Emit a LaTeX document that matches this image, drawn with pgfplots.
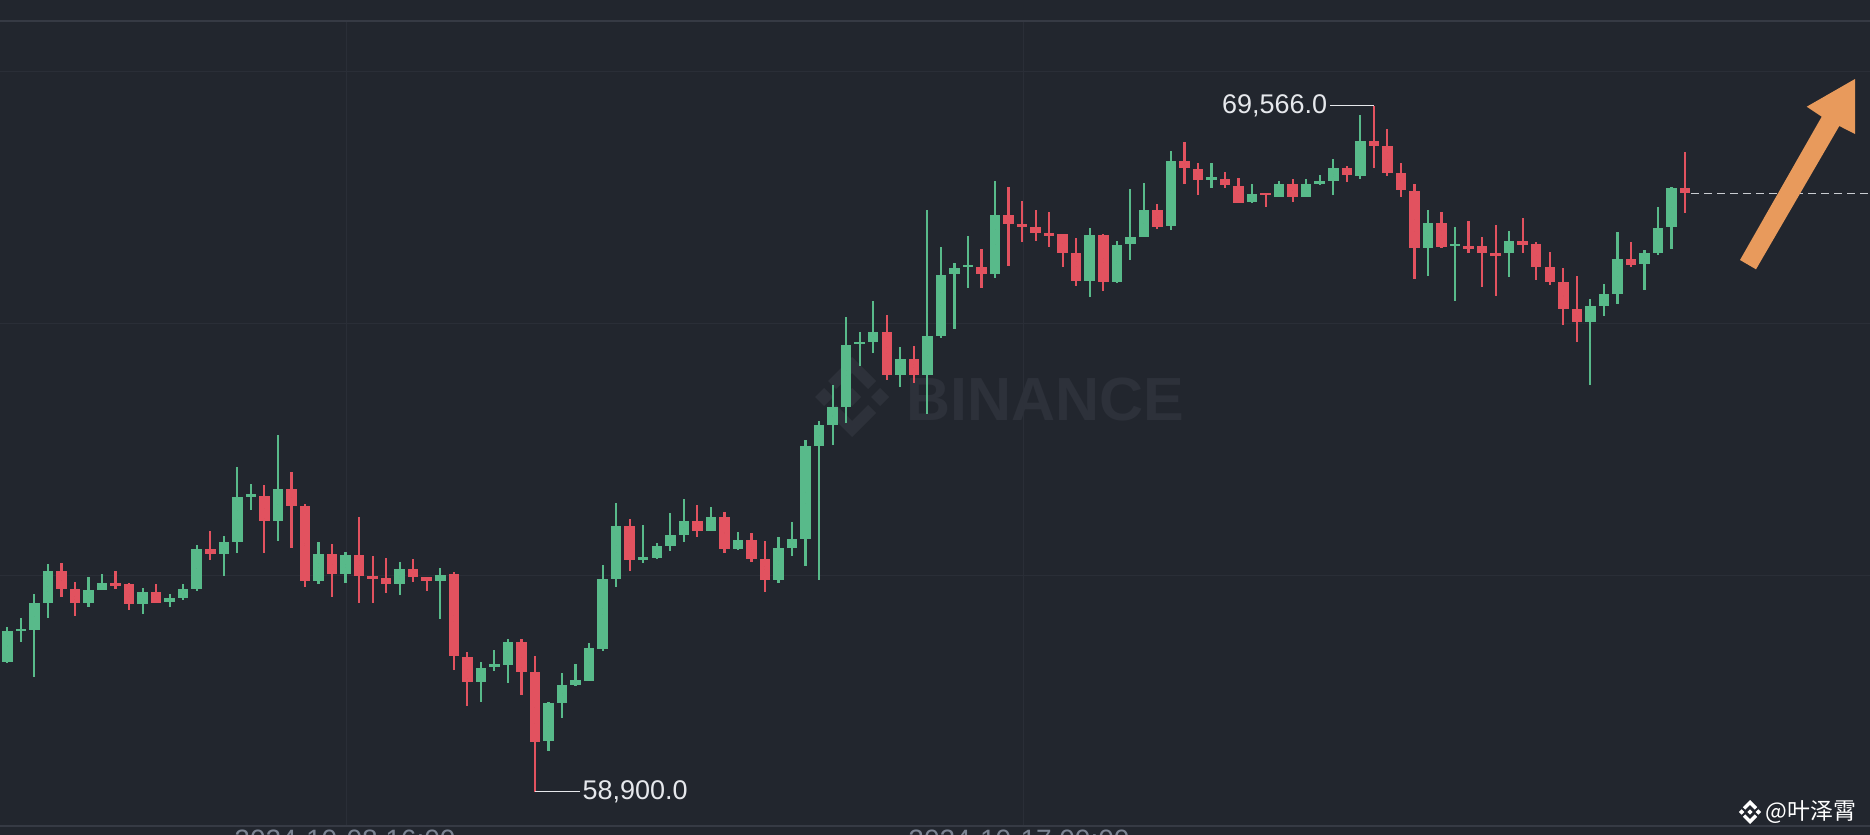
\documentclass[border=0pt]{standalone}
\usepackage{fontspec}
\setmainfont{Liberation Sans}
\newfontfamily\cjk{Noto Sans CJK SC}
\usepackage{pgfplots}
\pgfplotsset{compat=1.18}
\usepackage{pgfplotstable}
\definecolor{bgc}{HTML}{22262E}
\definecolor{gridc}{HTML}{2A2E37}
\definecolor{sepc}{HTML}{363A44}
\definecolor{upc}{HTML}{58BA8A}
\definecolor{dnc}{HTML}{E2525F}
\definecolor{wmc}{HTML}{2D313A}
\definecolor{arrc}{HTML}{E89A5C}
\definecolor{lblc}{HTML}{E6E8EC}
\definecolor{datec}{HTML}{7C8493}
\definecolor{dashc}{HTML}{C9CCD1}

\pgfplotstableread{
i o h l c
0 60916 61460 60900 61398
1 61406 61600 61232 61437
2 61414 61973 60688 61838
3 61838 62435 61600 62331
4 62331 62451 61922 62046
5 62046 62155 61636 61829
6 61829 62233 61776 62031
7 62036 62289 62030 62140
8 62144 62331 62051 62093
9 62133 62149 61729 61813
10 61813 62062 61662 62009
11 62009 62124 61829 61838
12 61844 61978 61767 61906
13 61906 62129 61880 62051
14 62051 62735 62015 62678
15 62678 62953 62502 62595
16 62595 62875 62258 62777
17 62782 63943 62615 63481
18 63486 63679 63279 63528
19 63497 63668 62615 63113
20 63113 64441 62793 63606
21 63606 63875 62693 63342
22 63342 63373 62087 62180
23 62180 62782 62124 62595
24 62595 62746 61931 62284
25 62284 62626 62149 62584
26 62584 63171 61829 62253
27 62253 62564 61834 62207
28 62217 62538 61989 62129
29 62129 62466 61953 62357
30 62357 62513 62155 62242
31 62233 62245 62015 62171
32 62171 62373 61589 62269
33 62280 62311 60792 61009
34 60998 61076 60237 60600
35 60600 60916 60299 60827
36 60834 61113 60771 60880
37 60865 61278 60594 61222
38 61222 61274 60403 60761
39 60756 61009 58900 59677
40 59688 60290 59537 60283
41 60283 60740 60050 60558
42 60558 60885 60548 60632
43 60625 61216 60616 61129
44 61118 62420 61087 62207
45 62211 63384 62077 63031
46 63031 63135 62331 62502
47 62502 63046 62460 62544
48 62533 62762 62522 62720
49 62724 63237 62647 62891
50 62891 63450 62777 63113
51 63113 63357 62855 62958
52 62958 63331 62950 63166
53 63166 63244 62606 62673
54 62678 62942 62662 62808
55 62808 62926 62476 62513
56 62518 62797 62009 62191
57 62191 62855 62140 62684
58 62693 63097 62569 62828
59 62828 64368 62409 64274
60 64274 64668 62191 64596
61 64596 65218 64295 64885
62 64885 66285 64627 65845
63 65860 66052 65518 65891
64 65896 66529 65716 66052
65 66052 66311 65301 65378
66 65378 65818 65196 65627
67 65627 65829 65249 65378
68 65378 67944 64772 65985
69 65985 67364 65949 66933
70 66944 67124 66094 67037
71 67053 67540 66726 67089
72 67062 67333 66736 66949
73 66949 68395 66891 67866
74 67866 68297 67073 67726
75 67726 68084 67442 67684
76 67684 67944 67466 67591
77 67591 67917 67373 67544
78 67566 67575 67053 67280
79 67280 67508 66767 66845
80 66845 67669 66596 67555
81 67555 67575 66684 66820
82 66820 67462 66810 67400
83 67410 68266 67166 67519
84 67529 68368 67519 67944
85 67944 68032 67648 67684
86 67695 68866 67633 68706
87 68706 68996 68343 68592
88 68581 68670 68177 68410
89 68410 68679 68281 68452
90 68426 68539 68281 68332
91 68317 68446 68048 68057
92 68068 68343 68057 68193
93 68203 68212 67995 68172
94 68150 68395 68141 68348
95 68348 68426 68073 68150
96 68150 68421 68140 68343
97 68348 68488 68332 68395
98 68399 68741 68177 68592
99 68601 68632 68384 68488
100 68477 69421 68426 69017
101 69017 69566 68592 68944
102 68939 69198 68472 68514
103 68514 68670 68141 68255
104 68244 68343 66866 67358
105 67358 67944 66918 67746
106 67746 67917 67348 67364
107 67379 67684 66534 67415
108 67384 67777 67280 67337
109 67384 67519 66742 67280
110 67280 67711 66611 67233
111 67271 67622 66907 67457
112 67466 67815 67271 67400
113 67415 67442 66855 67062
114 67053 67286 66778 66829
115 66829 67037 66156 66400
116 66400 66918 65896 66198
117 66198 66555 65223 66456
118 66456 66793 66296 66638
119 66638 67606 66482 67182
120 67182 67451 67053 67089
121 67104 67322 66700 67271
122 67271 67995 67244 67669
123 67675 68297 67333 68281
124 68281 68841 67892 68203
}\candles

\newcommand{\bnblogo}{%
  \fill (0,-9) -- (9,0) -- (0,9) -- (-9,0) -- cycle;
  \fill (-28,-9) -- (-19,0) -- (-28,9) -- (-37,0) -- cycle;
  \fill (28,-9) -- (37,0) -- (28,9) -- (19,0) -- cycle;
  \fill (0,-40) -- (24,-16) -- (16,-8) -- (0,-24) -- (-16,-8) -- (-24,-16) -- cycle;
  \fill (0,40) -- (24,16) -- (16,8) -- (0,24) -- (-16,8) -- (-24,16) -- cycle;
}

\pgfplotsset{candle/.style={only marks, mark size=0pt, mark options={draw=none, fill=none}}}

\begin{document}
\begin{tikzpicture}
\useasboundingbox (0,0) rectangle (935pt,-417.5pt);
\fill[bgc] (0,0) rectangle (935pt,-417.5pt);
\begin{scope}[x=0.5pt,y=-0.5pt]
  % grid
  \foreach \yy in {71,323,575} \draw[gridc, line width=0.5pt] (0,\yy) -- (1870,\yy);
  \foreach \xx in {346,1023} \draw[gridc, line width=0.5pt] (\xx,22) -- (\xx,826);
  % separators
  \draw[sepc, line width=1pt] (0,20.8) -- (1870,20.8);
  \draw[sepc, line width=1pt] (0,826.3) -- (1870,826.3);
  % watermark
  \begin{scope}[shift={(852,397)}, wmc]
    \bnblogo
  \end{scope}
  \node[anchor=west, text=wmc, inner sep=0pt, font=\fontsize{30.5}{31}\selectfont\bfseries] at (906,399) {BINANCE};
  % dates (cut off by the bottom edge, as in the reference)
  \node[anchor=north, inner sep=0pt, text=datec, font=\fontsize{14}{16}\selectfont] at (345,830) {2024-10-08 16:00};
  \node[anchor=north, inner sep=0pt, text=datec, font=\fontsize{14}{16}\selectfont] at (1019,830) {2024-10-17 00:00};
\end{scope}

\begin{axis}[at={(0,0)}, anchor=north west, scale only axis,
  width=935pt, height=417.5pt,
  xmin=-0.5395, xmax=137.67, ymin=58226.8, ymax=71209.4,
  axis line style={draw=none}, xtick=\empty, ytick=\empty, clip=true]
% wicks
\addplot[candle,
  restrict expr to domain={\thisrow{c}-\thisrow{o}}{0:1000000},
  error bars/.cd, y dir=both, y explicit, error mark=none,
  error bar style={draw=upc, line width=1.1pt}]
  table[x=i, y expr={(\thisrow{h}+\thisrow{l})/2}, y error expr={(\thisrow{h}-\thisrow{l})/2}] {\candles};
\addplot[candle,
  restrict expr to domain={\thisrow{c}-\thisrow{o}}{-1000000:-0.5},
  error bars/.cd, y dir=both, y explicit, error mark=none,
  error bar style={draw=dnc, line width=1.1pt}]
  table[x=i, y expr={(\thisrow{h}+\thisrow{l})/2}, y error expr={(\thisrow{h}-\thisrow{l})/2}] {\candles};
% bodies
\addplot[candle,
  restrict expr to domain={\thisrow{c}-\thisrow{o}}{0:1000000},
  error bars/.cd, y dir=both, y explicit, error mark=none,
  error bar style={draw=upc, line width=5.25pt}]
  table[x=i, y expr={(\thisrow{o}+\thisrow{c})/2}, y error expr={abs(\thisrow{c}-\thisrow{o})/2}] {\candles};
\addplot[candle,
  restrict expr to domain={\thisrow{c}-\thisrow{o}}{-1000000:-0.5},
  error bars/.cd, y dir=both, y explicit, error mark=none,
  error bar style={draw=dnc, line width=5.25pt}]
  table[x=i, y expr={(\thisrow{o}+\thisrow{c})/2}, y error expr={abs(\thisrow{c}-\thisrow{o})/2}] {\candles};
% annotations
\draw[lblc, line width=0.6pt] (axis cs:101,69566) -- ([xshift=-22pt]axis cs:101,69566)
  node[anchor=east, inner sep=1pt, text=lblc, font=\fontsize{13.5}{16}\selectfont] {69,566.0};
\draw[lblc, line width=0.6pt] (axis cs:39,58900) -- ([xshift=22.5pt]axis cs:39,58900)
  node[anchor=west, inner sep=1pt, text=lblc, font=\fontsize{13.5}{16}\selectfont] {58,900.0};
\draw[dashc, line width=0.7pt, dash pattern=on 4pt off 2.5pt] (axis cs:124.45,68203) -- (axis cs:137.67,68203);
\end{axis}

\begin{scope}[x=0.5pt,y=-0.5pt]
  % orange arrow
  \fill[arrc] (1740,260) -- (1821.7,116.7) -- (1806.7,106.7) -- (1855,79) -- (1855,134) -- (1839.3,126) -- (1756,269.3) -- cycle;
  % signature
  \begin{scope}[shift={(1750,812)}, scale=0.3, white]
    \bnblogo
  \end{scope}
  \node[anchor=west, inner sep=0pt, text=white, font=\cjk\fontsize{11.5}{13}\selectfont] at (1765,812) {@叶泽霄};
\end{scope}
\end{tikzpicture}
\end{document}
